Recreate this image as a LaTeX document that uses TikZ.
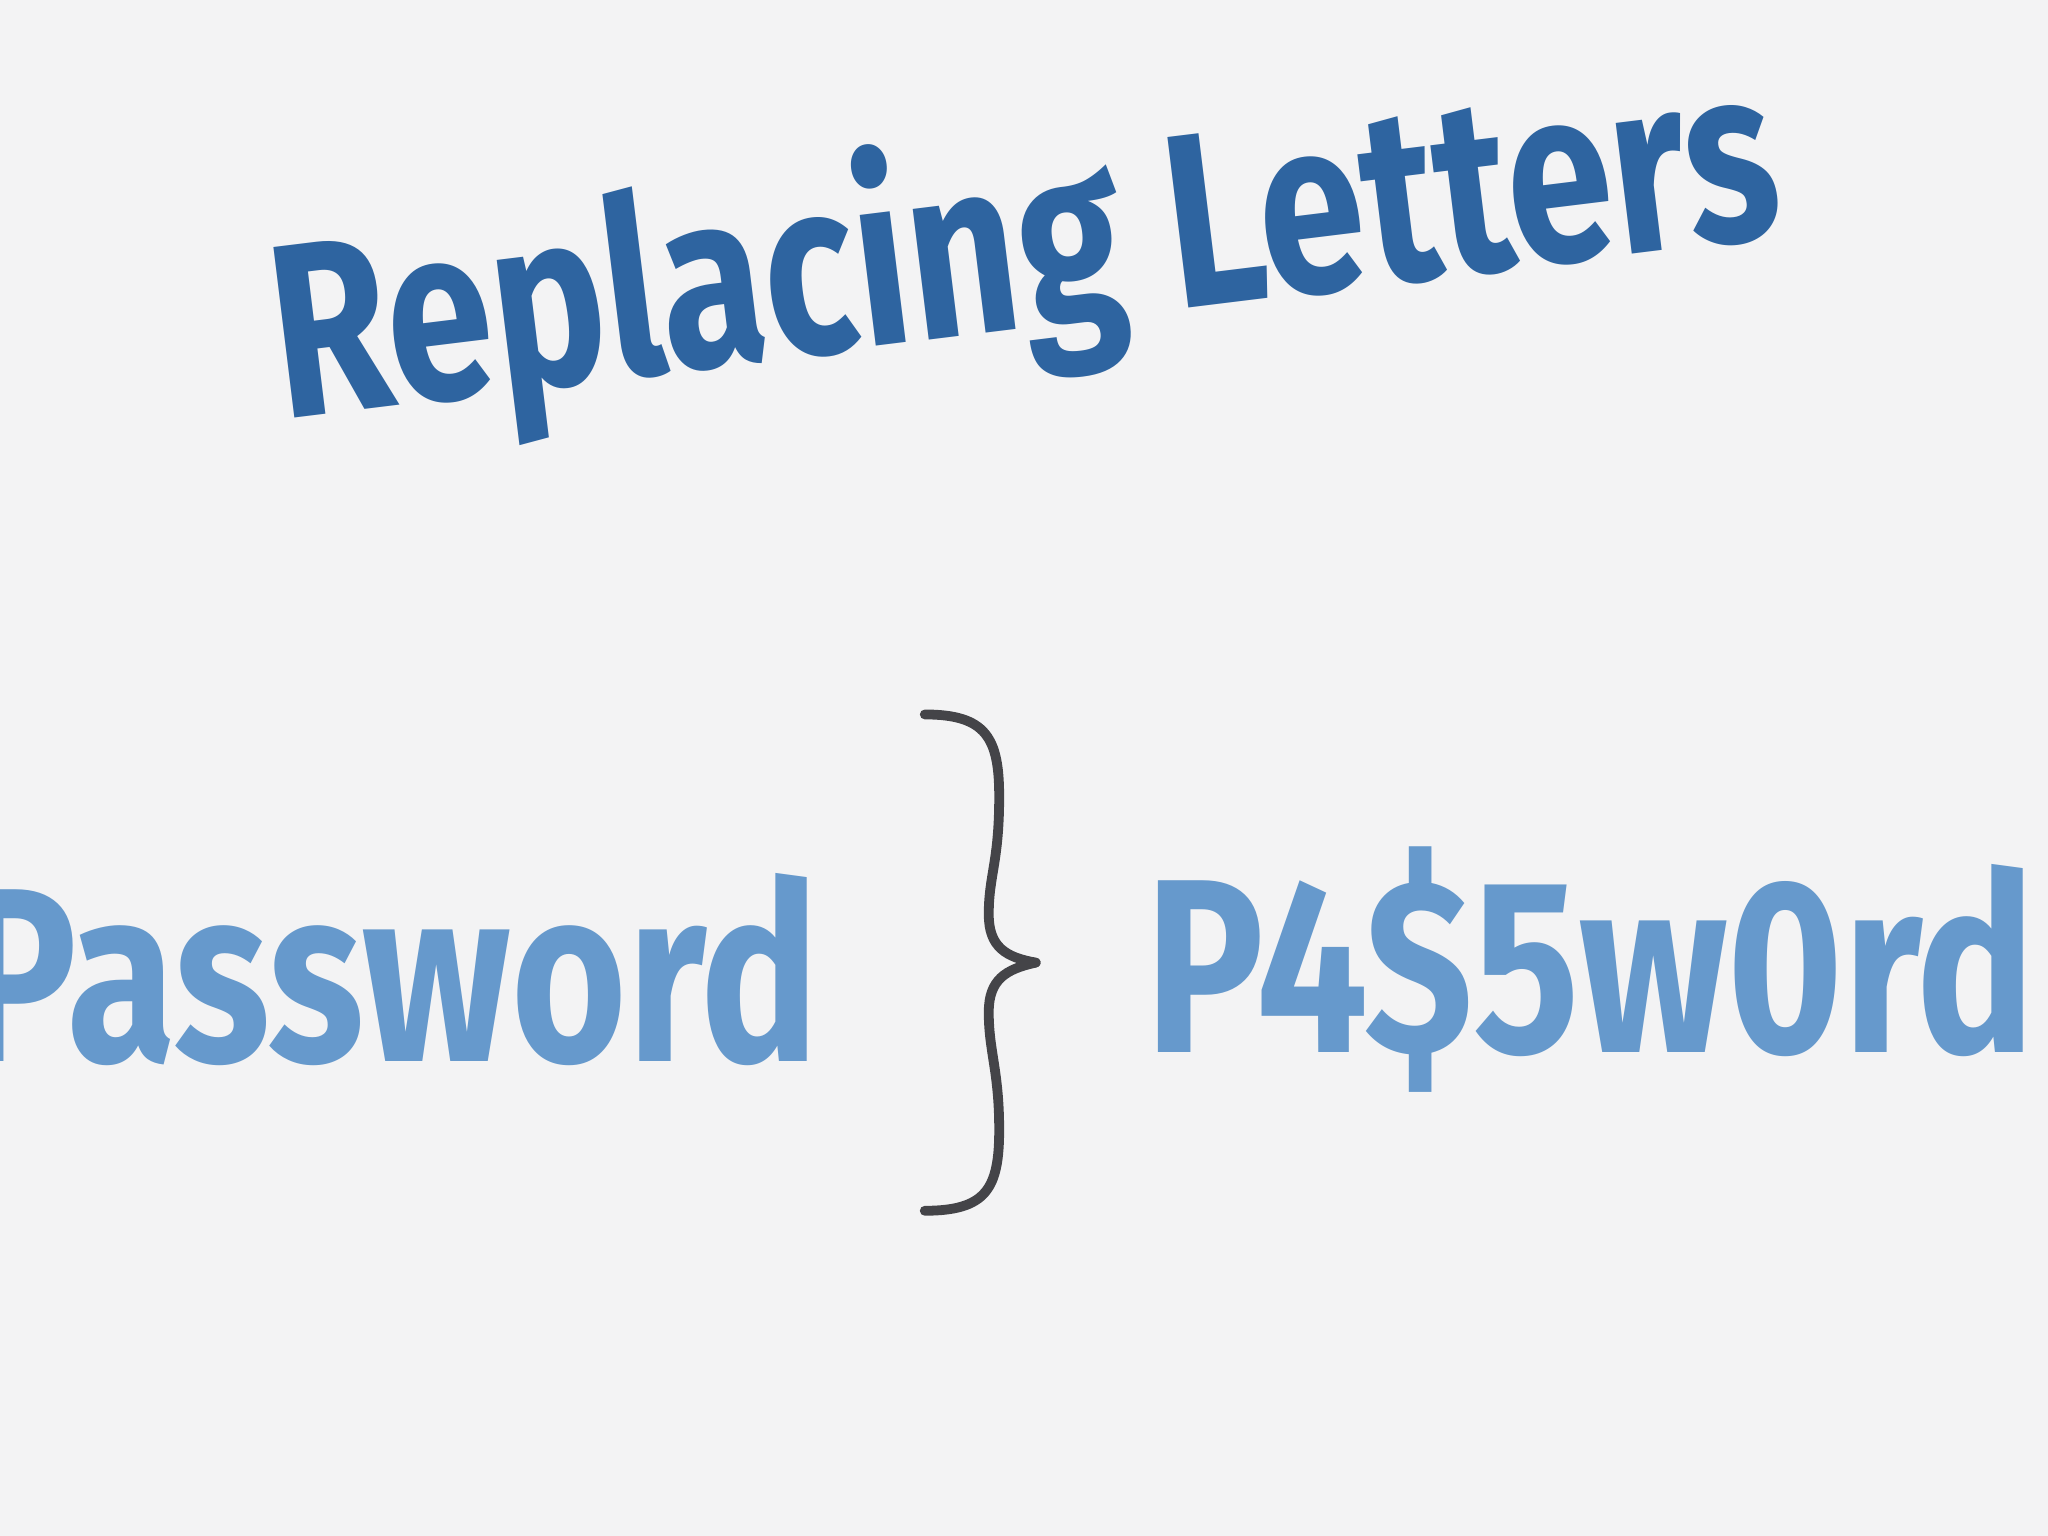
\documentclass[tikz,border=0pt]{standalone}
\usepackage{fontspec}
\usepackage{graphicx}
\setmainfont{Fira Sans}[UprightFont=* Bold]
\definecolor{slidebg}{HTML}{F3F3F4}
\definecolor{titleblue}{HTML}{2E64A0}
\definecolor{wordblue}{HTML}{6699CC}
\definecolor{bracegray}{HTML}{444448}
\newcommand{\narrow}[2]{\scalebox{#1}[1]{#2}}
\tikzset{
  word/.style={text=wordblue, font=\fontsize{54}{54}\selectfont, inner sep=0pt},
  bracestroke/.style={draw=bracegray, line width=0.075cm, line cap=round}
}
\begin{document}
\begin{tikzpicture}
    % Background
    \fill[slidebg] (0,0) rectangle (15.68,-11.76);
    \useasboundingbox (0,0) rectangle (15.68,-11.76);

    % Title
    \node (title) at (7.85,-1.95) [text=titleblue, font=\fontsize{54}{54}\selectfont, inner sep=0pt, rotate=7] {\narrow{0.77}{Replacing Letters}};

    % Words
    \node (plain) at (2.98,-7.42) [word] {\narrow{0.8}{Password}};
    \node (swapped) at (12.18,-7.42) [word] {\narrow{0.8}{P4\$5w0rd}};

    % Brace between them
    \coordinate (bracetop) at (7.08,-5.47);
    \coordinate (bracetip) at (7.93,-7.37);
    \coordinate (bracebot) at (7.08,-9.27);
    \draw[bracestroke] (bracetop) .. controls (7.55,-5.47) and (7.65,-5.65) .. (7.65,-6.1)
        .. controls (7.65,-6.6) and (7.57,-6.7) .. (7.57,-7.0)
        .. controls (7.57,-7.25) and (7.7,-7.33) .. (bracetip);
    \draw[bracestroke] (bracetip) .. controls (7.7,-7.42) and (7.57,-7.5) .. (7.57,-7.75)
        .. controls (7.57,-8.05) and (7.65,-8.2) .. (7.65,-8.65)
        .. controls (7.65,-9.1) and (7.55,-9.27) .. (bracebot);
\end{tikzpicture}
\end{document}
